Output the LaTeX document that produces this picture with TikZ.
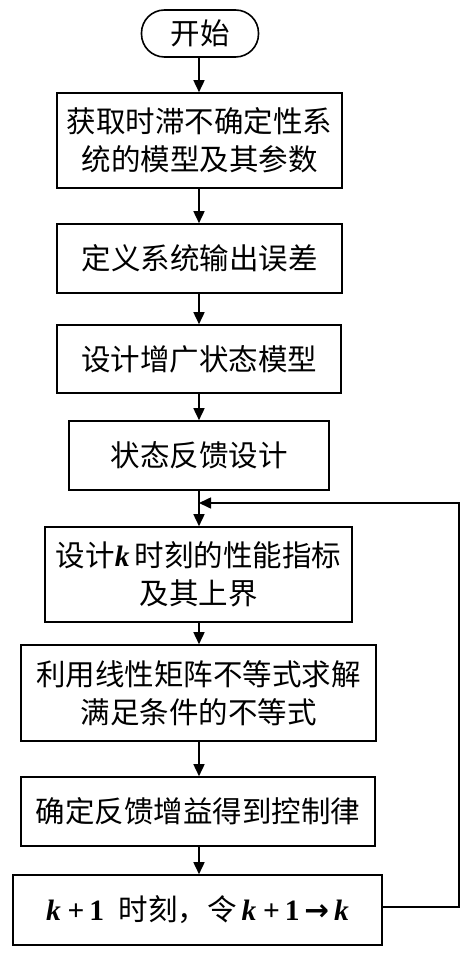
\documentclass[tikz,border=0pt]{standalone}
\usepackage{fontspec}
\setmainfont{Noto Sans CJK SC}
\newfontfamily\tnr{Liberation Serif}
\newfontfamily\dvs{DejaVu Sans}
\usetikzlibrary{arrows.meta}
\newcommand\kk{{\tnr\bfseries\itshape k}}
\newcommand\bn[1]{{\tnr\bfseries #1}}
\begin{document}
\begin{tikzpicture}[x=1pt,y=-1pt,
  box/.style={draw, line width=1.6pt, align=center, inner sep=0pt,
    font=\fontsize{29.5pt}{38pt}\selectfont},
  arr/.style={line width=1.6pt, -{Triangle[length=12pt,width=11pt]}}]
\fill[white] (0,0) rectangle (474,968);
\useasboundingbox (0,0) rectangle (474,968);
\node[box, rounded corners=23pt, minimum width=117pt, minimum height=47pt] (s) at (200,33.5) {开始};
\node[box, minimum width=285pt, minimum height=95pt] (b1) at (199.5,140.5) {获取时滞不确定性系\\统的模型及其参数};
\node[box, minimum width=285pt, minimum height=69pt] (b2) at (199.5,258.5) {定义系统输出误差};
\node[box, minimum width=284pt, minimum height=68pt] (b3) at (199,359) {设计增广状态模型};
\node[box, minimum width=260pt, minimum height=69pt] (b4) at (199,455.5) {状态反馈设计};
\node[box, minimum width=307pt, minimum height=95pt] (b5) at (198.5,574.5) {设计\kk\,时刻的性能指标\\及其上界};
\node[box, minimum width=355pt, minimum height=96pt] (b6) at (198.5,693) {利用线性矩阵不等式求解\\满足条件的不等式};
\node[box, minimum width=354pt, minimum height=69pt] (b7) at (198,811.5) {确定反馈增益得到控制律};
\node[box, minimum width=369pt, minimum height=70pt] (b8) at (197.5,910) {\kk\ \bn{+\,1}\hspace{0.5em}时刻，令\,\kk\ \bn{+\,1}\,{\dvs\bfseries →}\,\kk};
\coordinate (fbtop) at (459,503);
\coordinate (join) at (199,503);
\draw[arr] (s.south -| 199,0) -- (b1.north -| 199,0);
\draw[arr] (b1.south -| 199,0) -- (b2.north -| 199,0);
\draw[arr] (b2.south -| 199,0) -- (b3.north -| 199,0);
\draw[arr] (b3.south -| 199,0) -- (b4.north -| 199,0);
\draw[arr] (b4.south -| 199,0) -- (b5.north -| 199,0);
\draw[arr] (b5.south -| 199,0) -- (b6.north -| 199,0);
\draw[arr] (b6.south -| 199,0) -- (b7.north -| 199,0);
\draw[arr] (b7.south -| 199,0) -- (b8.north -| 199,0);
\draw[arr] (b8.east |- 0,907) -- (fbtop |- 0,907) -- (fbtop) -- (join);
\end{tikzpicture}
\end{document}
